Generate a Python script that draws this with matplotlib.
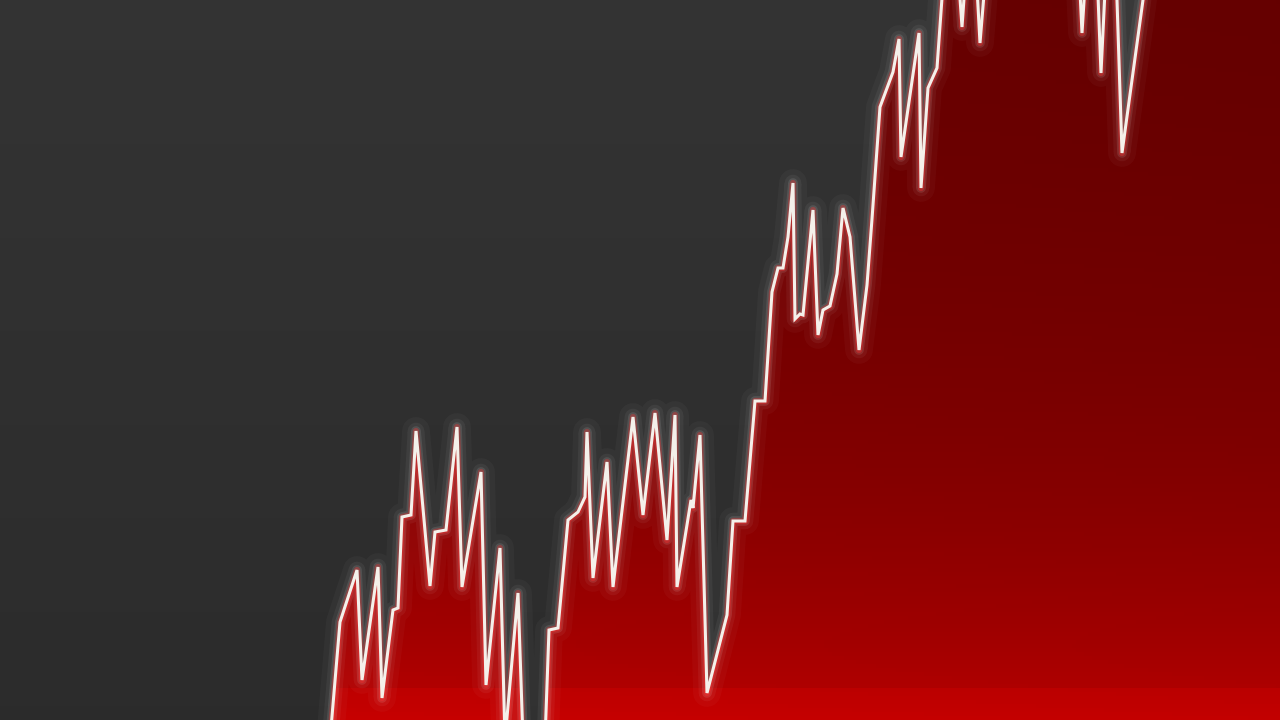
import numpy as np
import matplotlib.pyplot as plt
from matplotlib.patches import Polygon

# line vertices (x position, level from the bottom edge)
xs = [330, 340, 357, 362, 378, 382, 393, 398, 402, 411, 416, 430, 435, 446,
      457, 462, 481, 486, 500, 505, 518, 523, 545, 549, 558, 568, 578, 585,
      587, 593, 607, 613, 633, 643, 655, 667, 675, 677, 691, 693, 700, 707,
      727, 733, 745, 755, 765, 772, 778, 783, 788, 793, 795, 800, 803, 813,
      818, 823, 830, 837, 843, 850, 859, 867, 872, 880, 893, 899, 901, 919,
      921, 928, 937, 944, 958, 962, 966, 976, 980, 986, 1079, 1082, 1086,
      1097, 1101, 1106, 1116, 1122, 1132, 1143, 1146, 1280]
levels = [-20, 98, 150, 40, 153, 22, 110, 112, 203, 205, 289, 134, 188, 190,
          293, 133, 248, 35, 172, -20, 127, -20, -20, 90, 92, 200, 208, 223,
          288, 142, 258, 133, 303, 205, 307, 180, 305, 133, 220, 212, 285, 27,
          105, 199, 199, 319, 319, 428, 452, 452, 483, 537, 401, 406, 405, 510,
          385, 410, 414, 446, 512, 483, 370, 435, 501, 613, 648, 681, 563, 687,
          532, 632, 652, 750, 750, 693, 750, 750, 677, 750, 750, 687, 750,
          750, 647, 750, 750, 567, 640, 720, 750, 750]

W, H = 1280, 720
fig = plt.figure(figsize=(12.8, 7.2), dpi=100)
ax = fig.add_axes([0, 0, 1, 1])
ax.set_xlim(0, W)
ax.set_ylim(0, H)
ax.axis('off')

# dark backdrop, a touch lighter at the top
yy = np.linspace(0, 1, 200)[:, None]
bg = np.zeros((200, 2, 3))
bg[..., :] = (0.172 + 0.03 * yy)[..., None]
ax.imshow(bg, extent=[0, W, 0, H], origin='lower', aspect='auto', zorder=0)

# red gradient clipped to the area under the line
gx, gy = np.meshgrid(np.linspace(0, W, 320), np.linspace(0, H, 180))
red = 100 + 88 * np.exp(-gy / 270) - 0.004 * gx
red = red + np.where(gy < 30, 12, 0)
grad = np.zeros(gx.shape + (3,))
grad[..., 0] = np.clip(red, 0, 255) / 255
im = ax.imshow(grad, extent=[0, W, 0, H], origin='lower', aspect='auto', zorder=1)
verts = [(xs[0], -50)] + list(zip(xs, levels)) + [(xs[-1], -50)]
poly = Polygon(verts, closed=True, facecolor='none', edgecolor='none')
ax.add_patch(poly)
im.set_clip_path(poly)

# soft glow and the bright line
for lw, a in [(20, 0.03), (12, 0.05), (7, 0.10)]:
    ax.plot(xs, levels, color='white', linewidth=lw, alpha=a,
            solid_joinstyle='round', zorder=2)
ax.plot(xs, levels, color='#ff3030', linewidth=4.5, alpha=0.35, zorder=3)
ax.plot(xs, levels, color='#f4f0ea', linewidth=2.2, solid_joinstyle='miter', zorder=4)

plt.savefig('out.png', dpi=100, facecolor='#2f2f2f')
